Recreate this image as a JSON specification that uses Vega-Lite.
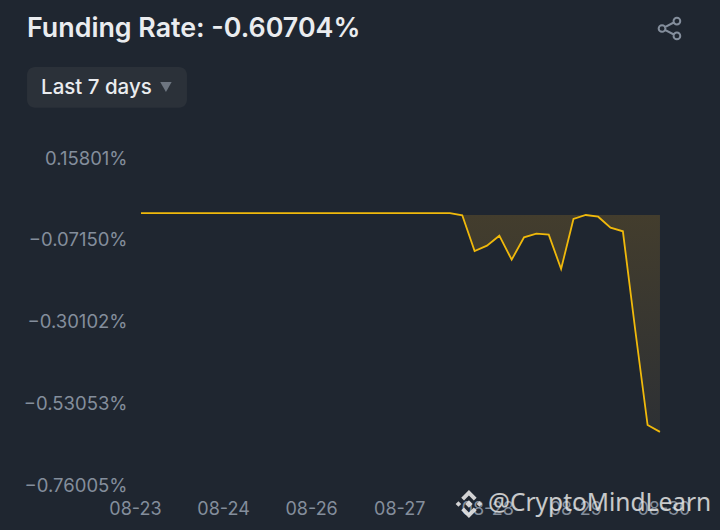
{
  "$schema": "https://vega.github.io/schema/vega-lite/v6.json",
  "description": "Funding rate, last 7 days.",
  "background": "#1f2630",
  "autosize": "none",
  "padding": {"left": 130, "top": 158, "right": 0, "bottom": 45},
  "width": 590,
  "height": 327,
  "view": {"stroke": null},
  "title": {
    "text": "Funding Rate: -0.60704%",
    "anchor": "start",
    "frame": "group",
    "dx": -103,
    "offset": -29,
    "font": "Inter",
    "fontSize": 26.8,
    "fontWeight": 600,
    "color": "#eaecef"
  },
  "data": {
    "values": [
      {"t": 0, "rate": 0.003}, {"t": 1, "rate": 0.003}, {"t": 2, "rate": 0.003}, {"t": 3, "rate": 0.003},
      {"t": 4, "rate": 0.003}, {"t": 5, "rate": 0.003}, {"t": 6, "rate": 0.003}, {"t": 7, "rate": 0.003},
      {"t": 8, "rate": 0.003}, {"t": 9, "rate": 0.003}, {"t": 10, "rate": 0.003}, {"t": 11, "rate": 0.003},
      {"t": 12, "rate": 0.003}, {"t": 13, "rate": 0.003}, {"t": 14, "rate": 0.003}, {"t": 15, "rate": 0.003},
      {"t": 16, "rate": 0.003}, {"t": 17, "rate": 0.003}, {"t": 18, "rate": 0.003}, {"t": 19, "rate": 0.003},
      {"t": 20, "rate": 0.003}, {"t": 21, "rate": 0.003}, {"t": 22, "rate": 0.003}, {"t": 23, "rate": 0.003},
      {"t": 24, "rate": 0.003}, {"t": 25, "rate": 0.003}, {"t": 26, "rate": -0.0029}, {"t": 27, "rate": -0.1031},
      {"t": 28, "rate": -0.0882}, {"t": 29, "rate": -0.0601}, {"t": 30, "rate": -0.1275}, {"t": 31, "rate": -0.0646},
      {"t": 32, "rate": -0.0545}, {"t": 33, "rate": -0.0573}, {"t": 34, "rate": -0.1536}, {"t": 35, "rate": -0.0133},
      {"t": 36, "rate": -0.002}, {"t": 37, "rate": -0.0068}, {"t": 38, "rate": -0.0377}, {"t": 39, "rate": -0.0478},
      {"t": 40, "rate": -0.3249}, {"t": 41, "rate": -0.5916}, {"t": 42, "rate": -0.611}
    ]
  },
  "layer": [
    {
      "transform": [{"filter": "datum.t >= 26"}],
      "mark": {
        "type": "area",
        "fill": {
          "gradient": "linear",
          "x1": 0, "y1": 0, "x2": 0, "y2": 1,
          "stops": [
            {"offset": 0, "color": "#433d2d"},
            {"offset": 1, "color": "#2d3034"}
          ]
        }
      },
      "encoding": {
        "x": {
          "field": "t",
          "type": "quantitative",
          "scale": {"domain": [-0.89, 46.86], "nice": false, "zero": false},
          "axis": {
            "title": null,
            "values": [-0.49, 6.64, 13.77, 20.9, 28.02, 35.15, 42.28],
            "labelExpr": "['08-23','08-24','08-26','08-27','08-28','08-29','08-30'][round((datum.value+0.49)/7.13)]",
            "domain": false,
            "ticks": false,
            "grid": false,
            "labelPadding": 15,
            "labelFont": "Inter",
            "labelFontSize": 18,
            "labelColor": "#848e9c"
          }
        },
        "y": {
          "field": "rate",
          "type": "quantitative",
          "scale": {"domain": [-0.76005, 0.15801], "nice": false, "zero": false},
          "axis": {
            "title": null,
            "values": [0.15801, -0.0715, -0.30102, -0.53053, -0.76005],
            "labelExpr": "format(datum.value, '.5f') + '%'",
            "domain": false,
            "ticks": false,
            "grid": false,
            "labelPadding": 3,
            "labelFont": "Inter",
            "labelFontSize": 18.5,
            "labelColor": "#848e9c"
          }
        },
        "y2": {"datum": -0.002}
      }
    },
    {
      "mark": {"type": "line", "color": "#f0b90b", "strokeWidth": 1.8},
      "encoding": {
        "x": {"field": "t", "type": "quantitative"},
        "y": {"field": "rate", "type": "quantitative"}
      }
    },
    {
      "data": {"values": [{}]},
      "mark": {"type": "rect", "color": "#2b3139", "cornerRadius": 8},
      "encoding": {
        "x": {"datum": -9.225, "type": "quantitative"},
        "x2": {"datum": 3.72},
        "y": {"datum": 0.4135, "type": "quantitative"},
        "y2": {"datum": 0.2992}
      }
    },
    {
      "data": {"values": [{}]},
      "mark": {"type": "text", "text": "Last 7 days", "align": "left", "baseline": "middle", "font": "Inter", "fontSize": 20.5, "fontWeight": 500, "color": "#eaecef"},
      "encoding": {
        "x": {"datum": -8.09, "type": "quantitative"},
        "y": {"datum": 0.3546, "type": "quantitative"}
      }
    },
    {
      "data": {"values": [{}]},
      "mark": {"type": "point", "shape": "triangle-down", "filled": true, "size": 130, "color": "#6e7681", "opacity": 1},
      "encoding": {
        "x": {"datum": 2.02, "type": "quantitative"},
        "y": {"datum": 0.3574, "type": "quantitative"}
      }
    },
    {
      "data": {"values": [{}]},
      "mark": {
        "type": "point",
        "shape": "M-.9 0a.28 .28 0 1 0 .56 0a.28 .28 0 1 0 -.56 0ZM.34 -.62a.28 .28 0 1 0 .56 0a.28 .28 0 1 0 -.56 0ZM.34 .62a.28 .28 0 1 0 .56 0a.28 .28 0 1 0 -.56 0ZM-.38 -.12L.36 -.5M-.38 .12L.36 .5",
        "size": 576,
        "filled": false,
        "color": "#848e9c",
        "strokeWidth": 2,
        "opacity": 1
      },
      "encoding": {
        "x": {"datum": 42.77, "type": "quantitative"},
        "y": {"datum": 0.5216, "type": "quantitative"}
      }
    },
    {
      "data": {"values": [{}]},
      "mark": {
        "type": "point",
        "shape": "M0 -.27L.27 0L0 .27L-.27 0ZM-.75 -.2L-.55 0L-.75 .2L-.95 0ZM.75 -.2L.95 0L.75 .2L.55 0ZM0 -1L.55 -.45L.35 -.25L0 -.6L-.35 -.25L-.55 -.45ZM0 1L.55 .45L.35 .25L0 .6L-.35 .25L-.55 .45Z",
        "size": 784,
        "filled": true,
        "color": "#e6e6e6",
        "opacity": 0.9
      },
      "encoding": {
        "x": {"datum": 26.54, "type": "quantitative"},
        "y": {"datum": -0.8134, "type": "quantitative"}
      }
    },
    {
      "data": {"values": [{}]},
      "mark": {"type": "text", "text": "@CryptoMindLearn", "align": "left", "baseline": "middle", "font": "Noto Sans", "fontSize": 24.5, "color": "#e6e6e6", "opacity": 0.85},
      "encoding": {
        "x": {"datum": 28.08, "type": "quantitative"},
        "y": {"datum": -0.8134, "type": "quantitative"}
      }
    }
  ]
}
